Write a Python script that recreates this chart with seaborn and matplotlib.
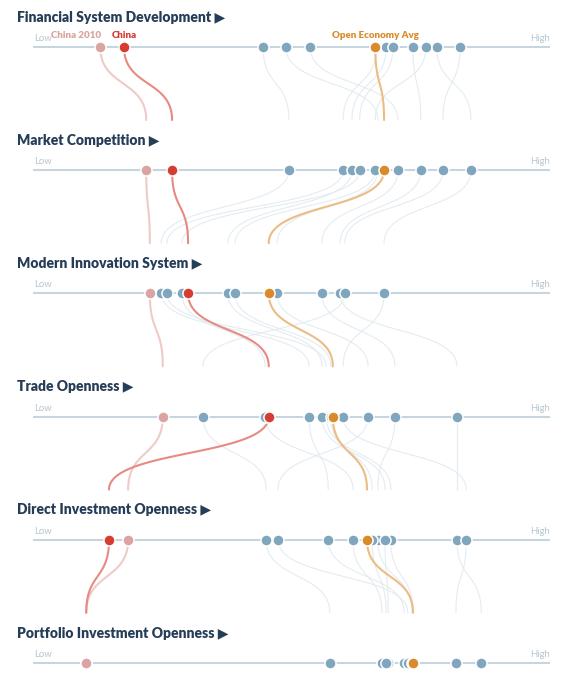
import numpy as np
import pandas as pd
import matplotlib
matplotlib.use("Agg")
import matplotlib.pyplot as plt
import seaborn as sns

# Pillars, top to bottom
pillars = ["Financial System Development", "Market Competition", "Modern Innovation System",
           "Trade Openness", "Direct Investment Openness", "Portfolio Investment Openness"]

# Index values on a 0 (Low) .. 100 (High) scale, one value per pillar
china_2010 = [13.0, 21.9, 22.6, 25.1, 18.4, 10.3]
china = [17.6, 26.9, 30.0, 45.6, 14.7, 10.3]
open_avg = [66.2, 67.9, 45.6, 58.0, 64.6, 73.5]

economy_1 = [44.5, 49.5, 24.8, 53.4, 57.1, 71.8]
economy_2 = [48.9, 66.7, 47.2, 64.8, 47.4, 72.5]
economy_3 = [53.6, 70.6, 55.9, 70.0, 66.7, 73.3]
economy_4 = [66.5, 60.0, 25.9, 56.7, 69.2, 73.5]
economy_5 = [68.3, 61.7, 37.7, 55.9, 68.1, 68.7]
economy_6 = [69.6, 63.2, 28.8, 44.9, 61.9, 67.5]
economy_7 = [73.5, 75.0, 59.4, 82.0, 82.0, 86.7]
economy_8 = [76.0, 66.2, 39.1, 57.6, 65.6, 68.3]
economy_9 = [78.1, 84.7, 67.9, 60.0, 83.8, 81.8]
economy_10 = [82.6, 79.3, 60.3, 32.9, 45.1, 57.4]

others = [economy_1, economy_2, economy_3, economy_4, economy_5,
          economy_6, economy_7, economy_8, economy_9, economy_10]

# colours
c_blue = "#7fa6bc"
c_pink = "#d9a4a1"
c_red = "#d63c30"
c_orange = "#d98b2c"
c_line = "#c6d5df"
c_title = "#263d58"
c_lowhigh = "#b7c5ce"

# long table
rows = []
for k, vals in enumerate(others):
    for i, v in enumerate(vals):
        rows.append(dict(entity=f"Economy {k + 1}", group="other", pillar=i, value=v))
for name, grp, vals in [("China 2010", "china2010", china_2010), ("China", "china", china),
                        ("Open Economy Avg", "avg", open_avg)]:
    for i, v in enumerate(vals):
        rows.append(dict(entity=name, group=grp, pillar=i, value=v))
df = pd.DataFrame(rows)

# layout (pixels)
px_per_unit = 5.17
left_px = 33
row_gap = 123.2
line_y0 = 47
drop = 73

df["y"] = line_y0 + df["pillar"] * row_gap

# curve points between consecutive pillars
t = np.linspace(0, 1, 60)
curve_rows = []
for (ent, grp), g in df.groupby(["entity", "group"], sort=False):
    g = g.sort_values("pillar")
    xs, ys = g["value"].to_numpy(), g["y"].to_numpy()
    for i in range(len(xs) - 1):
        y0, y1 = ys[i], ys[i] + drop
        bx = (1 - t) ** 3 * xs[i] + 3 * (1 - t) ** 2 * t * xs[i] + 3 * (1 - t) * t ** 2 * xs[i + 1] + t ** 3 * xs[i + 1]
        by = (1 - t) ** 3 * y0 + 3 * (1 - t) ** 2 * t * (y0 + drop * 0.55) + 3 * (1 - t) * t ** 2 * (y1 - drop * 0.55) + t ** 3 * y1
        for a, b in zip(bx, by):
            curve_rows.append(dict(entity=ent, group=grp, seg=f"{ent}-{i}", x=a, y=b))
curves = pd.DataFrame(curve_rows)

sns.set_theme(style="white")
plt.rcParams["font.family"] = ["Lato", "DejaVu Sans"]

fig = plt.figure(figsize=(5.68, 7.0), dpi=100)
ax = fig.add_axes([0, 0, 1, 1])
ax.set_xlim(-left_px / px_per_unit, (568 - left_px) / px_per_unit)
ax.set_ylim(700, 0)
ax.axis("off")

curve_style = {"other": ("#e1eaf0", 0.8, 0.9),
               "china2010": ("#efcbc8", 1.5, 1.0),
               "china": ("#e78a83", 1.5, 1.0),
               "avg": ("#ebbd85", 1.5, 1.0)}
for grp in ["other", "china2010", "china", "avg"]:
    col, lw, al = curve_style[grp]
    sns.lineplot(data=curves[curves["group"] == grp], x="x", y="y", units="seg",
                 estimator=None, sort=False, color=col, lw=lw, alpha=al,
                 legend=False, ax=ax)

# axis lines and texts
for i, name in enumerate(pillars):
    ly = line_y0 + i * row_gap
    ax.plot([0, 100], [ly, ly], color=c_line, lw=1.5, zorder=2, solid_capstyle="butt")
    ax.text(0.3, ly - 4, "Low", color=c_lowhigh, fontsize=6.8, ha="left", va="bottom")
    ax.text(100, ly - 4, "High", color=c_lowhigh, fontsize=6.8, ha="right", va="bottom")
    ax.text(-16 / px_per_unit, ly - 30, name + " \u25B6", color=c_title, fontsize=10,
            fontweight="heavy", ha="left", va="center",
            family=["Lato", "DejaVu Sans"])

# dots
for grp, col in [("other", c_blue), ("china", c_red), ("china2010", c_pink), ("avg", c_orange)]:
    sns.scatterplot(data=df[df["group"] == grp], x="value", y="y", color=col, s=64,
                    edgecolor="white", linewidth=1.1, zorder=4, legend=False, ax=ax)
ax.set_xlabel("")
ax.set_ylabel("")

# series labels on the first pillar
ax.text(china_2010[0] + 0.1, line_y0 - 7, "China 2010", color=c_pink, fontsize=7,
        fontweight="heavy", ha="right", va="bottom")
ax.text(china[0], line_y0 - 7, "China", color=c_red, fontsize=7,
        fontweight="heavy", ha="center", va="bottom")
ax.text(open_avg[0], line_y0 - 7, "Open Economy Avg", color=c_orange, fontsize=7,
        fontweight="heavy", ha="center", va="bottom")

fig.savefig("out.png", dpi=100)
